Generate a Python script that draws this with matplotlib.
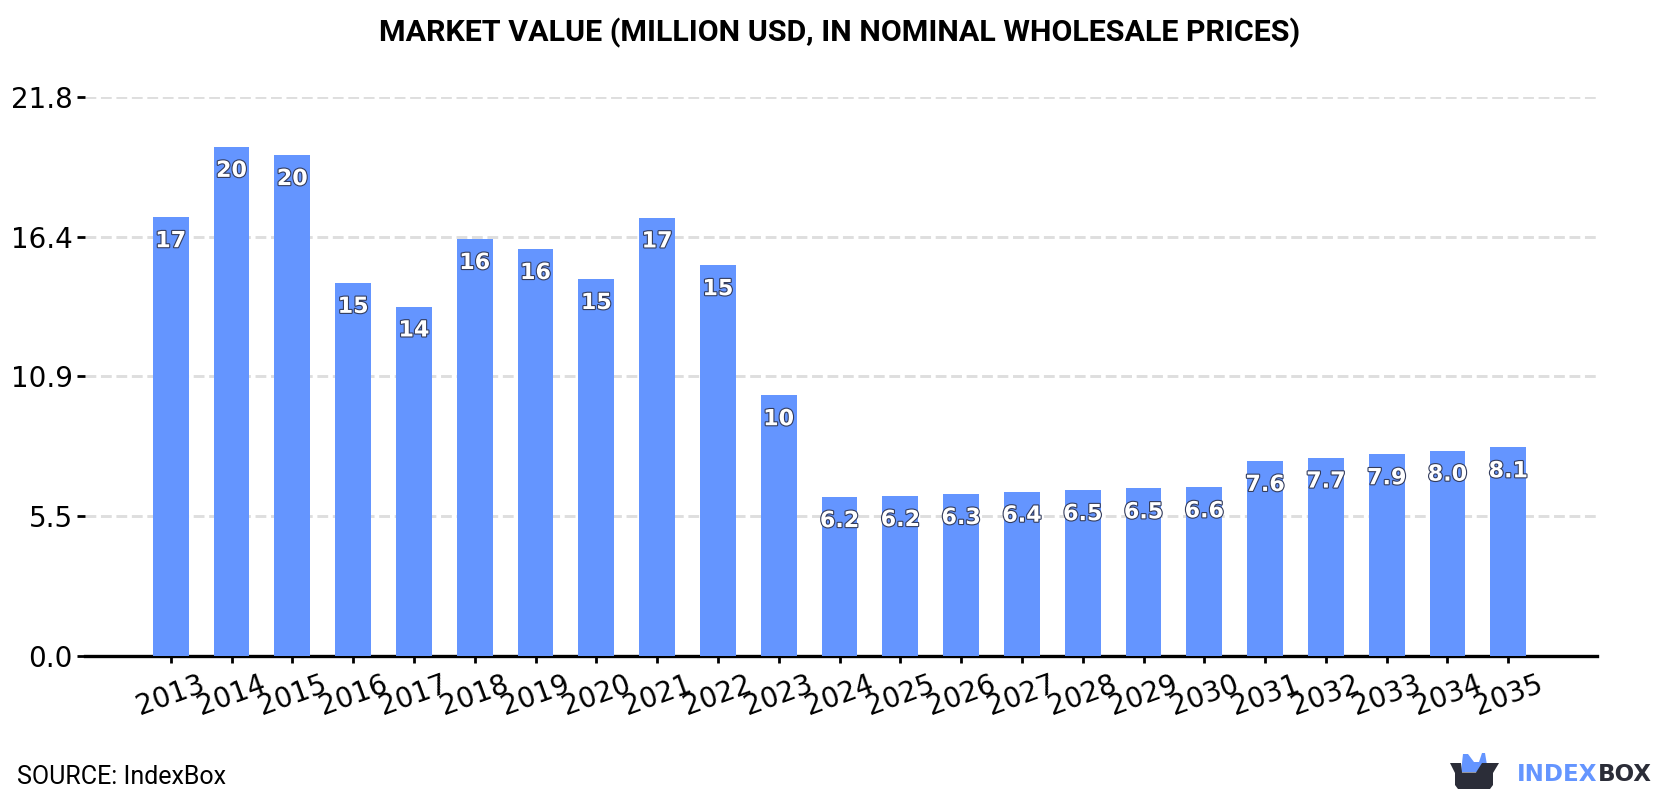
import matplotlib
matplotlib.use("Agg")
import matplotlib.pyplot as plt
import matplotlib.patheffects as pe
from matplotlib.patches import Polygon

years = list(range(2013, 2036))
values = [17.1, 19.84, 19.52, 14.54, 13.62, 16.25, 15.86, 14.69, 17.09, 15.23, 10.16,
          6.19, 6.23, 6.31, 6.40, 6.46, 6.53, 6.57, 7.60, 7.73, 7.86, 8.00, 8.13]
value_labels = ["17", "20", "20", "15", "14", "16", "16", "15", "17", "15", "10",
                "6.2", "6.2", "6.3", "6.4", "6.5", "6.5", "6.6", "7.6", "7.7", "7.9", "8.0", "8.1"]
y_ticks = [0.0, 5.45, 10.9, 16.35, 21.8]
y_tick_labels = ["0.0", "5.5", "10.9", "16.4", "21.8"]
title = "MARKET VALUE (MILLION USD, IN NOMINAL WHOLESALE PRICES)"
source = "SOURCE: IndexBox"

BLUE = "#6495ff"
DARK = "#2b2d38"
W, H = 1680, 800

fig = plt.figure(figsize=(W / 100, H / 100), dpi=100, facecolor="white")
ax = fig.add_axes([85 / W, 1 - 656 / H, (1597 - 85) / W, (656 - 96.7) / H])

ax.bar(range(len(years)), values, width=0.59, color=BLUE, zorder=3)
ax.set_xlim(-1.41, 23.459)
ax.set_ylim(0, 21.8)

# Dashed guide lines sit behind the bars
ax.set_yticks(y_ticks)
ax.set_yticklabels(y_tick_labels, fontsize=20, color="black")
ax.yaxis.grid(True, color="#dedede", linewidth=2.1, linestyle="--", zorder=0)
ax.set_axisbelow(True)

ax.set_xticks(range(len(years)))
ax.set_xticklabels([str(y) for y in years], fontsize=20, rotation=20, ha="center", color="black")
ax.tick_params(axis="x", length=5, width=2, pad=5, color="black")
ax.tick_params(axis="y", length=5.8, width=2, pad=3, color="black")

for side in ("top", "right", "left"):
    ax.spines[side].set_visible(False)
ax.spines["bottom"].set_linewidth(2.4)
ax.spines["bottom"].set_color("black")

# Value labels inside each bar, just under its top
for i, (v, lab) in enumerate(zip(values, value_labels)):
    ax.annotate(lab, (i, v), xytext=(0, -17.2), textcoords="offset points",
                ha="center", va="center", fontsize=16, fontweight="bold", color="white",
                family="DejaVu Sans", zorder=5,
                path_effects=[pe.withStroke(linewidth=1.6, foreground="#333c5c")])

fig.text(840 / W, 1 - 32.5 / H, title, ha="center", va="center", fontsize=21.9,
         fontweight="bold", family="Roboto", color="black")
fig.text(17 / W, 1 - 777 / H, source, ha="left", va="center", fontsize=18,
         family="Roboto", color="black")


# Brand mark in the lower right, laid out in pixel space
def px(points):
    return [(x / W, 1 - y / H) for x, y in points]


fig.add_artist(Polygon(px([(1463, 754), (1468, 754), (1474, 762), (1479, 762), (1482, 753),
                           (1485, 753), (1487, 765), (1482, 772), (1461, 772)]),
                       closed=True, facecolor=BLUE, edgecolor="none", transform=fig.transFigure))
fig.add_artist(Polygon(px([(1450, 763), (1461, 763), (1462, 772.5), (1476, 772.5), (1482, 763),
                           (1499, 763), (1493, 773), (1493, 785), (1490, 789), (1458, 789),
                           (1455, 785), (1455, 773)]),
                       closed=True, facecolor=DARK, edgecolor="none", transform=fig.transFigure))
brand_y = 1 - 774.5 / H
t1 = fig.text(1517 / W, brand_y, "INDEX", ha="left", va="center", fontsize=16.6,
              fontweight="bold", family="DejaVu Sans", color=BLUE)
fig.canvas.draw()
ext = t1.get_window_extent()
fig.text(ext.x1 / W, brand_y, "BOX", ha="left", va="center", fontsize=16.6,
         fontweight="bold", family="DejaVu Sans", color=DARK)

fig.savefig("out.png", dpi=100, facecolor="white")
